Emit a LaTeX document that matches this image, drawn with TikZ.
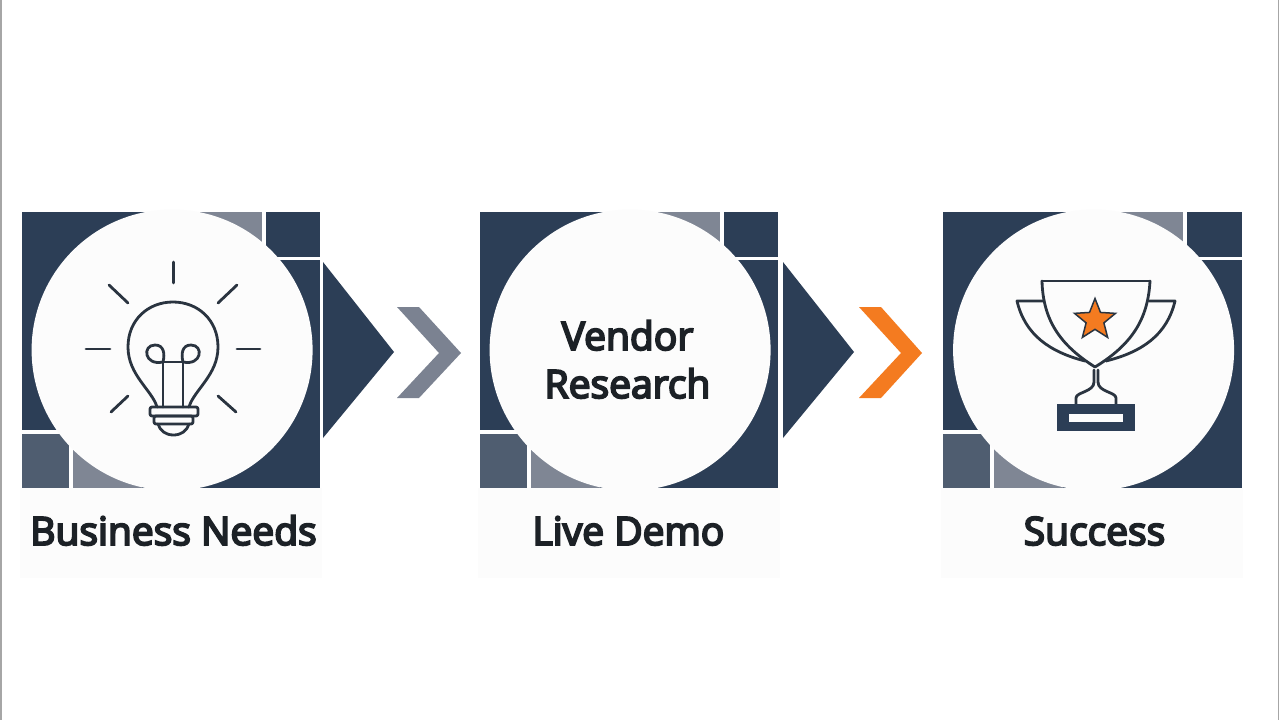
\documentclass[tikz,border=0pt]{standalone}
\usepackage{fontspec}
\newfontfamily\capfont{Open Sans}[FakeBold=5]
\usetikzlibrary{shapes.geometric}
\definecolor{navy}{HTML}{2C3E56}
\definecolor{slate}{HTML}{4F5D70}
\definecolor{steel}{HTML}{7F8694}
\definecolor{ember}{HTML}{F47B20}
\definecolor{ink}{HTML}{1C2126}
\definecolor{stroke}{HTML}{2A3440}
\definecolor{paper}{HTML}{FCFCFC}
\definecolor{edge}{HTML}{A6A6A6}
\tikzset{
    icon/.style={draw=stroke, line width=2.8pt, line cap=round, line join=round},
    caption/.style={text=ink, font=\capfont\fontsize{39}{39}\selectfont, anchor=base},
    disc/.style={circle, fill=paper, minimum size=281pt, inner sep=0pt},
}
% one square panel with its tiles, #1 is the left edge, #2 the name of the disc
\newcommand{\panel}[2]{
    \fill[paper] (#1-2,488) rectangle (#1+300,578);
    \fill[navy] (#1,212) rectangle (#1+298.5,488);
    \fill[white] (#1,430) rectangle (#1+120,488);
    \fill[slate] (#1,434) rectangle (#1+47,488);
    \fill[steel] (#1+51,434) rectangle (#1+120,488);
    \fill[steel] (#1+170,212) rectangle (#1+240,250);
    \fill[white] (#1+240,212) rectangle (#1+298.5,260);
    \fill[navy] (#1+244,212) rectangle (#1+298.5,257);
    \node[disc] (#2) at (#1+150.4,350) {};
}
\begin{document}
\begin{tikzpicture}[x=1pt,y=-1pt]
    \useasboundingbox (0,0) rectangle (1280,720);
    \fill[white] (0,0) rectangle (1280,720);
    \draw[edge, line width=1.5pt] (0.75,0) -- (0.75,720);
    \draw[edge, line width=1.5pt] (1278.5,0) -- (1278.5,720);

    \panel{21.7}{discA}
    \panel{479.7}{discB}
    \panel{943.2}{discC}

    % triangles and chevrons between the panels
    \fill[navy] (323,262) -- (394,352) -- (323,438) -- cycle;
    \fill[navy] (783,262) -- (854,352) -- (783,438) -- cycle;
    \fill[steel!95!navy] (397,307) -- (419,307) -- (461,353) -- (419,398) -- (397,398) -- (439,353) -- cycle;
    \fill[ember] (859,307) -- (881,307) -- (922,353) -- (881,398) -- (859,398) -- (901,353) -- cycle;

    % bulb
    \draw[icon] (173.5,262) -- (173.5,283);
    \draw[icon] (109,285) -- (128,303);
    \draw[icon] (237,285) -- (218,303);
    \draw[icon] (86,349) -- (110,349);
    \draw[icon] (237,349) -- (260,349);
    \draw[icon] (128,396) -- (111,412);
    \draw[icon] (218,396) -- (236,412);
    \draw[icon] (157,407) .. controls (152,390) and (128,375) .. (128,347)
        .. controls (128,320) and (148,302) .. (173,302)
        .. controls (198,302) and (218,320) .. (218,347)
        .. controls (218,375) and (194,390) .. (189,407);
    \draw[icon] (163,407) -- (163,362) -- (183,362) -- (183,407);
    \draw[icon] (163,362) .. controls (144,366) and (142,345) .. (155,345)
        .. controls (164,345) and (165,354) .. (163,362);
    \draw[icon] (183,362) .. controls (202,366) and (204,345) .. (191,345)
        .. controls (182,345) and (181,354) .. (183,362);
    \draw[icon, rounded corners=2pt] (150,407) rectangle (198,416);
    \draw[icon, rounded corners=2pt] (154,416) rectangle (193,424);
    \draw[icon] (158,424) .. controls (160,431) and (166,435) .. (173.5,435)
        .. controls (181,435) and (187,431) .. (189,424);

    % trophy
    \draw[icon] (1042,281) -- (1150,281);
    \draw[icon] (1042,281) .. controls (1043,320) and (1060,345) .. (1095,367)
        .. controls (1131,345) and (1148,320) .. (1150,281);
    \draw[icon] (1043,301) -- (1017,301) .. controls (1025,335) and (1050,352) .. (1085,361);
    \draw[icon] (1149,301) -- (1175,301) .. controls (1167,335) and (1142,352) .. (1106,361);
    \draw[icon] (1094,370) -- (1094,382) .. controls (1094,392) and (1076,392) .. (1076,398) -- (1076,404);
    \draw[icon] (1098,370) -- (1098,382) .. controls (1098,392) and (1116,392) .. (1116,398) -- (1116,404);
    \fill[navy] (1057,404) rectangle (1135,431);
    \fill[paper] (1069,414) rectangle (1123,422);
    \node[star, star points=5, star point ratio=2.3, minimum size=43pt, inner sep=0pt,
        fill=ember, draw=stroke, line width=1.5pt] (cupstar) at (1095,320) {};

    % texts
    \node[caption] (needs) at (173.5,545) {Business Needs};
    \node[caption] (vendor) at (627.5,350) {Vendor};
    \node[caption] (research) at (627.5,398) {Research};
    \node[caption] (demo) at (628.5,545) {Live Demo};
    \node[caption] (success) at (1094.5,545) {Success};
\end{tikzpicture}
\end{document}
